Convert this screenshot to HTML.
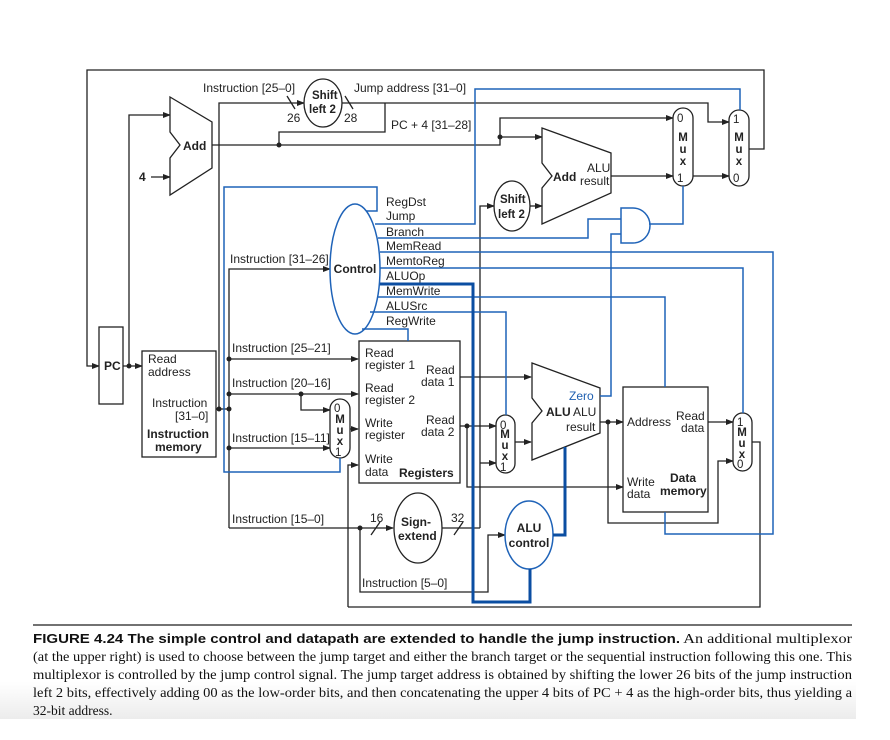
<!DOCTYPE html>
<html><head><meta charset="utf-8"><style>
html,body{margin:0;padding:0;background:#fff;width:890px;height:740px;overflow:hidden}
svg{display:block}
text{font-family:"Liberation Sans",Arial,sans-serif;fill:#222}
.b{font-weight:bold}
.bl{fill:#1f5fb0}
.cap{font-family:"Liberation Serif",serif;font-size:13.5px;fill:#111}
</style></head><body>
<svg width="890" height="740" viewBox="0 0 890 740" xmlns="http://www.w3.org/2000/svg">
<defs>
<marker id="a" markerWidth="8" markerHeight="6" refX="7" refY="3" orient="auto" markerUnits="userSpaceOnUse"><path d="M0,0 L8,3 L0,6 z" fill="#222"/></marker>
<linearGradient id="g" x1="0" y1="0" x2="0" y2="1"><stop offset="0" stop-color="#fff"/><stop offset="0.6" stop-color="#fff"/><stop offset="1" stop-color="#ececec"/></linearGradient>
</defs>
<rect x="0" y="626" width="856" height="93" fill="url(#g)"/>

<g fill="none" stroke="#222" stroke-width="1.3">
<!-- outer loop -->
<path d="M749,149 H764 V70 H87 V366 H99" marker-end="url(#a)"/>
<!-- PC -->
<rect x="99" y="327" width="24" height="77" fill="#fff"/>
<path d="M123,366 H142" marker-end="url(#a)"/>
<path d="M129,366 V115 H170" marker-end="url(#a)"/>
<path d="M151,177 H170" marker-end="url(#a)"/>
<!-- Add1 -->
<path d="M170,97 L212,122 L212,168 L170,195 L170,158 L180,145 L170,132 Z" fill="#fff"/>
<path d="M212,145 H500 V137"/>
<path d="M500,137 V118 H673" marker-end="url(#a)"/>
<path d="M500,137 H542" marker-end="url(#a)"/>
<path d="M279,145 V132 H385 V103"/>
<!-- shift left 2 (jump) -->
<path d="M219,409 V103 H304" marker-end="url(#a)"/>
<ellipse cx="323" cy="103" rx="19" ry="24" fill="#fff"/>
<path d="M342,103 H708 V122 H729" marker-end="url(#a)"/>
<path d="M287,96 L295,109 M345,96 L353,109"/>
<!-- mux1 / mux2 -->
<rect x="673" y="108" width="20" height="78" rx="10" fill="#fff"/>
<rect x="729" y="110" width="20" height="76" rx="10" fill="#fff"/>
<path d="M693,176 H729" marker-end="url(#a)"/>
<!-- Add2 -->
<path d="M542,128 L611,153 L611,193 L542,224 L542,188 L552,176 L542,163 Z" fill="#fff"/>
<path d="M611,176 H673" marker-end="url(#a)"/>
<ellipse cx="512" cy="206" rx="18" ry="25" fill="#fff"/>
<path d="M530,206 H542" marker-end="url(#a)"/>
<path d="M480,528 V206 H494" marker-end="url(#a)"/>
<!-- instruction memory -->
<rect x="142" y="351" width="74" height="106" fill="#fff"/>
<path d="M216,409 H229"/>
<path d="M229,528 V269 H330" marker-end="url(#a)"/>
<path d="M229,359 H358" marker-end="url(#a)"/>
<path d="M229,394 H358" marker-end="url(#a)"/>
<path d="M301,394 V410 H330" marker-end="url(#a)"/>
<path d="M229,448 H330" marker-end="url(#a)"/>
<path d="M229,528 H393" marker-end="url(#a)"/>
<path d="M371,535 L380,522 M454,535 L463,522"/>
<path d="M360,528 V592 H488 V535 H505" marker-end="url(#a)"/>
<!-- regdst mux -->
<rect x="330" y="399" width="20" height="59" rx="10" fill="#fff"/>
<path d="M350,429 H358" marker-end="url(#a)"/>
<!-- registers -->
<rect x="359" y="341" width="101" height="142" fill="#fff"/>
<path d="M348,607 V465 H358" marker-end="url(#a)"/>
<path d="M460,377 H531" marker-end="url(#a)"/>
<path d="M460,426 H496" marker-end="url(#a)"/>
<path d="M467,426 V487 H623" marker-end="url(#a)"/>
<path d="M480,463 H496" marker-end="url(#a)"/>
<!-- sign extend -->
<ellipse cx="418" cy="528" rx="24" ry="35" fill="#fff"/>
<path d="M442,528 H480"/>
<!-- ALU mux -->
<rect x="496" y="415" width="19" height="58" rx="9.5" fill="#fff"/>
<path d="M515,442 H531" marker-end="url(#a)"/>
<!-- ALU -->
<path d="M532,363 L600,388 L600,433 L532,460 L532,423 L542,411 L532,398 Z" fill="#fff"/>
<path d="M600,422 H623" marker-end="url(#a)"/>
<path d="M608,422 V523 H718 V461 H733" marker-end="url(#a)"/>
<!-- data memory -->
<rect x="623" y="387" width="85" height="125" fill="#fff"/>
<path d="M708,422 H733" marker-end="url(#a)"/>
<rect x="733" y="413" width="19" height="58" rx="9.5" fill="#fff"/>
<path d="M752,442 H760 V607 H348"/>
</g>
<g fill="#222">
<circle cx="129" cy="366" r="2.5"/><circle cx="279" cy="145" r="2.5"/><circle cx="500" cy="137" r="2.5"/>
<circle cx="219" cy="409" r="2.5"/><circle cx="229" cy="409" r="2.5"/><circle cx="229" cy="359" r="2.5"/>
<circle cx="229" cy="394" r="2.5"/><circle cx="229" cy="448" r="2.5"/><circle cx="301" cy="394" r="2.5"/>
<circle cx="360" cy="528" r="2.5"/><circle cx="467" cy="426" r="2.5"/><circle cx="608" cy="422" r="2.5"/>
</g>

<!-- blue control -->
<g fill="none" stroke="#1f63b8" stroke-width="1.5">
<ellipse cx="355" cy="269" rx="25" ry="65" fill="#fff"/>
<path d="M366,211 H377 V187 H224 V472 H340 V458"/>
<path d="M375,224 H475 V89 H740 V110"/>
<path d="M378,238 H588 V219 H621"/>
<path d="M621,208 H633 A17,17.5 0 0 1 633,243 H621 Z" fill="#fff"/>
<path d="M649,224 H683 V186"/>
<path d="M621,234 H611 V396 H600"/>
<path d="M380,252 H773 V534 H665 V512"/>
<path d="M380,268 H743 V413"/>
<path d="M378,297 H665 V387"/>
<path d="M370,312 H506 V415"/>
<path d="M362,329 H408 V341"/>
<ellipse cx="529" cy="535" rx="24" ry="34" fill="#fff"/>
</g>
<g fill="none" stroke="#0b4ea2" stroke-width="3">
<path d="M380,284 H473 V602 H530 V569"/>
<path d="M565,447 V535 H553"/>
</g>

<!-- texts -->
<g font-size="12">
<text x="203" y="92">Instruction [25–0]</text>
<text x="354" y="92">Jump address [31–0]</text>
<text x="287" y="122">26</text><text x="344" y="122">28</text>
<text x="391" y="129">PC + 4 [31–28]</text>
<text x="139" y="181" class="b">4</text>
<text x="183" y="150" class="b">Add</text>
<text x="312" y="99" class="b" font-size="11.5">Shift</text>
<text x="309" y="113" class="b" font-size="11.5">left 2</text>
<text x="500" y="203" class="b" font-size="11.5">Shift</text>
<text x="498" y="218" class="b" font-size="11.5">left 2</text>
<text x="553" y="181" class="b">Add</text>
<text x="587" y="172">ALU</text><text x="580" y="185">result</text>
<text x="104" y="370" class="b">PC</text>
<text x="148" y="363">Read</text><text x="148" y="376">address</text>
<text x="152" y="407">Instruction</text><text x="175" y="420">[31–0]</text>
<text x="147" y="438" class="b">Instruction</text><text x="155" y="451" class="b">memory</text>
<text x="230" y="263">Instruction [31–26]</text>
<text x="232" y="352">Instruction [25–21]</text>
<text x="232" y="387">Instruction [20–16]</text>
<text x="232" y="442">Instruction [15–11]</text>
<text x="232" y="523">Instruction [15–0]</text>
<text x="362" y="587">Instruction [5–0]</text>
<text x="370" y="522">16</text><text x="451" y="522">32</text>
<text x="401" y="526" class="b">Sign-</text><text x="398" y="540" class="b">extend</text>
<text x="365" y="357">Read</text><text x="365" y="369">register 1</text>
<text x="426" y="374">Read</text><text x="421" y="386">data 1</text>
<text x="365" y="392">Read</text><text x="365" y="404">register 2</text>
<text x="365" y="427">Write</text><text x="365" y="439">register</text>
<text x="426" y="424">Read</text><text x="421" y="436">data 2</text>
<text x="365" y="463">Write</text><text x="365" y="476">data</text>
<text x="399" y="477" class="b">Registers</text>
<text x="546" y="416" class="b">ALU</text>
<text x="573" y="416">ALU</text><text x="566" y="431">result</text>
<text x="569" y="400" class="bl">Zero</text>
<text x="627" y="426">Address</text>
<text x="676" y="420">Read</text><text x="681" y="432">data</text>
<text x="627" y="486">Write</text><text x="627" y="498">data</text>
<text x="670" y="482" class="b">Data</text><text x="660" y="495" class="b">memory</text>
</g>
<g font-size="11.5" font-family="Liberation Sans">
<text x="677" y="122">0</text><text x="677" y="182">1</text>
<text x="733" y="123">1</text><text x="733" y="182">0</text>
<text x="334" y="412">0</text><text x="335" y="456">1</text>
<text x="500" y="429">0</text><text x="500" y="471">1</text>
<text x="737" y="426">1</text><text x="737" y="468">0</text>
</g>
<g font-size="11.5" class="b" text-anchor="middle">
<text x="683" y="141">M</text><text x="683" y="153">u</text><text x="683" y="165">x</text>
<text x="739" y="141">M</text><text x="739" y="153">u</text><text x="739" y="165">x</text>
<text x="340" y="423">M</text><text x="340" y="434">u</text><text x="340" y="445">x</text>
<text x="505" y="438">M</text><text x="505" y="449">u</text><text x="505" y="460">x</text>
<text x="742" y="436">M</text><text x="742" y="447">u</text><text x="742" y="458">x</text>
</g>
<g font-size="12" class="bl">
<text x="386" y="206">RegDst</text>
<text x="386" y="220">Jump</text>
<text x="386" y="236">Branch</text>
<text x="386" y="250">MemRead</text>
<text x="386" y="265">MemtoReg</text>
<text x="386" y="280">ALUOp</text>
<text x="386" y="295">MemWrite</text>
<text x="386" y="310">ALUSrc</text>
<text x="386" y="325">RegWrite</text>
<text x="355" y="273" class="b" text-anchor="middle">Control</text>
<text x="529" y="532" class="b" text-anchor="middle">ALU</text>
<text x="529" y="547" class="b" text-anchor="middle">control</text>
</g>

<!-- caption -->
<line x1="33" y1="625" x2="852" y2="625" stroke="#444" stroke-width="1.5"/>
<text class="cap" x="33" y="643" textLength="819" lengthAdjust="spacingAndGlyphs"><tspan font-family="Liberation Sans" font-weight="bold" font-size="12.5">FIGURE 4.24   The simple control and datapath are extended to handle the jump instruction.</tspan> An additional multiplexor</text>
<text class="cap" x="33" y="661" textLength="819" lengthAdjust="spacingAndGlyphs">(at the upper right) is used to choose between the jump target and either the branch target or the sequential instruction following this one. This</text>
<text class="cap" x="33" y="679" textLength="819" lengthAdjust="spacingAndGlyphs">multiplexor is controlled by the jump control signal. The jump target address is obtained by shifting the lower 26 bits of the jump instruction</text>
<text class="cap" x="33" y="697" textLength="819" lengthAdjust="spacingAndGlyphs">left 2 bits, effectively adding 00 as the low-order bits, and then concatenating the upper 4 bits of PC + 4 as the high-order bits, thus yielding a</text>
<text class="cap" x="33" y="715">32-bit address.</text>
</svg>
</body></html>
